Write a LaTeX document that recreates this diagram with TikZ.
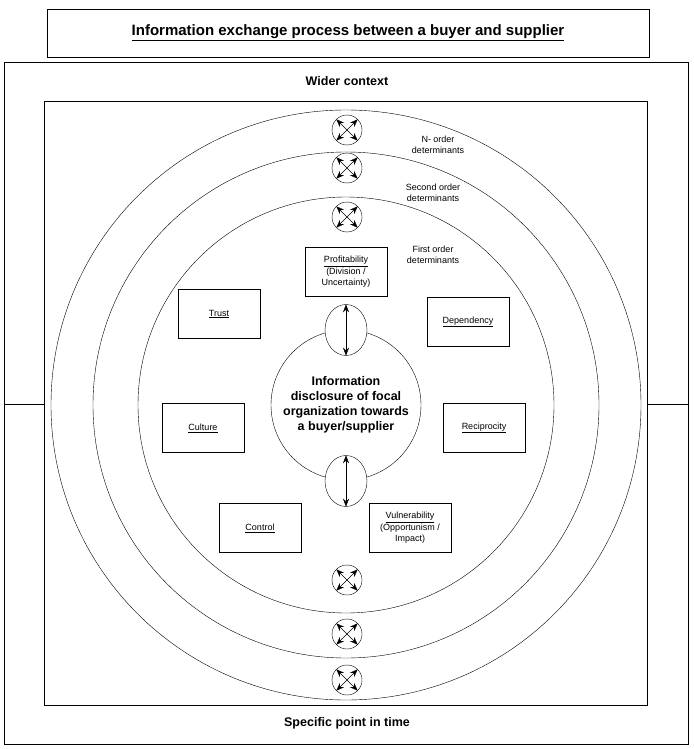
\documentclass[tikz,border=0pt]{standalone}
\usepackage{fontspec}
\setmainfont{Liberation Sans}
\usetikzlibrary{arrows.meta,shapes.geometric}
\begin{document}
\begin{tikzpicture}[x=1pt,y=-1pt,
  box/.style={draw,minimum width=82pt,minimum height=49pt,align=center,font=\fontsize{9}{11.5}\selectfont,inner sep=1pt},
  note/.style={align=center,font=\fontsize{9}{11}\selectfont},
  hub/.style={draw,circle,minimum size=30pt,inner sep=0pt,fill=white},
  arr/.style={{Stealth[length=8pt,width=6pt]}-{Stealth[length=8pt,width=6pt]}}]
\useasboundingbox (0,0) rectangle (693,749);
\node[draw,minimum width=602pt,minimum height=48pt,font=\bfseries\fontsize{15}{17}\selectfont] (title) at (348,33) {\underline{Information exchange process between a buyer and supplier}};
\draw (4,62) rectangle (688,744);
\draw (44,101) rectangle (647,705);
\coordinate (l1) at (4,404); \coordinate (l2) at (44,404);
\coordinate (r1) at (647,404); \coordinate (r2) at (688,404);
\draw (l1) -- (l2); \draw (r1) -- (r2);
\node[font=\bfseries\fontsize{12.5}{14}\selectfont] (wc) at (347,81) {Wider context};
\node[font=\bfseries\fontsize{12.5}{14}\selectfont] (sp) at (347,723) {Specific point in time};
\draw (346,405) circle (295);
\draw (346,405) circle (253);
\draw (346,405) circle (208);
\node[draw,circle,minimum size=150pt,align=center,font=\bfseries\fontsize{12.5}{15}\selectfont,inner sep=0pt] (core) at (346,405) {Information\\disclosure of focal\\organization towards\\a buyer/supplier};
\foreach \n/\y in {a/330,b/481}{
  \node[draw,ellipse,minimum width=42pt,minimum height=51pt,fill=white,inner sep=0pt] (\n) at (346,\y) {};
  \draw[arr] (\n.north) -- (\n.south);
}
\foreach \n/\y in {h1/130,h2/168,h3/217,h4/580,h5/634,h6/680}{
  \node[hub] (\n) at (347,\y) {};
  \draw[arr] (\n.north east) -- (\n.south west);
  \draw[arr] (\n.north west) -- (\n.south east);
}
\node[note] (n1) at (438,145) {N- order\\determinants};
\node[note] (n2) at (433,193) {Second order\\determinants};
\node[note] (n3) at (433,255) {First order\\determinants};
\node[box] (prof) at (346,272) {\underline{Profitability}\\(Division /\\Uncertainty)};
\node[box] (trust) at (219,314) {\underline{Trust}};
\node[box] (dep) at (468,322) {\underline{Dependency}};
\node[box] (cul) at (203,428) {\underline{Culture}};
\node[box] (rec) at (484,428) {\underline{Reciprocity}};
\node[box] (ctl) at (260,528) {\underline{Control}};
\node[box] (vul) at (410,528) {\underline{Vulnerability}\\(Opportunism /\\Impact)};
\end{tikzpicture}
\end{document}
